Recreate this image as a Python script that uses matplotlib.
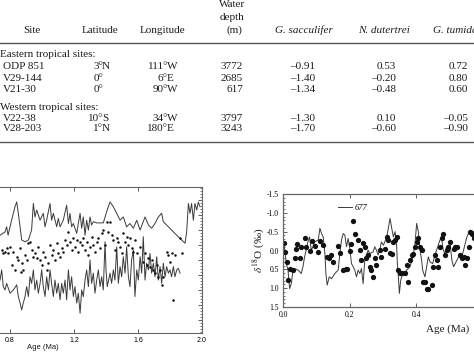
import matplotlib.pyplot as plt
from matplotlib.lines import Line2D
from matplotlib.ticker import MultipleLocator

plt.rcParams['mathtext.fontset'] = 'stix'

# TABLE DATA
sites_east = ['ODP 851', 'V29-144', 'V21-30']
sites_west = ['V22-38', 'V28-203']
lat_num = ['3°', '0°', '0°', '10°', '1°']
lat_hemi = ['N', '', '', 'S', 'N']
lon_num = ['111°', '6°', '90°', '34°', '180°']
lon_hemi = ['W', 'E', 'W', 'W', 'E']
depth = ['3772', '2685', '617', '3797', '3243']
sacculifer = ['–0.91', '–1.40', '–1.34', '–1.30', '–1.70']
dutertrei = ['0.53', '–0.20', '–0.48', '0.10', '–0.60']
tumida = ['0.72', '0.80', '0.60', '–0.05', '–0.90']

# LEFT PANEL (age in Ma, isotope value, axis inverted)
upper_age = [0.738, 0.769, 0.779, 0.788, 0.81, 0.831, 0.842, 0.852, 0.863, 0.873,
             0.894, 0.915, 0.935, 0.946, 0.956, 0.967, 0.988, 1.008, 1.019, 1.029,
             1.05, 1.06, 1.071, 1.092, 1.102, 1.113, 1.133, 1.154, 1.165, 1.175,
             1.185, 1.196, 1.217, 1.227, 1.238, 1.248, 1.258, 1.269, 1.279, 1.29,
             1.3, 1.31, 1.321, 1.342, 1.383, 1.404, 1.425, 1.446, 1.467, 1.488,
             1.508, 1.529, 1.55, 1.571, 1.592, 1.613, 1.644, 1.665, 1.685, 1.706,
             1.727, 1.748, 1.758, 1.779, 1.821, 1.863, 1.894, 1.904, 1.915, 1.925,
             1.935, 1.946, 1.956, 1.967, 1.977, 1.988]
upper_val = [-0.83, -0.94, -1.11, -0.83, -1.33, -1.78, -1.94, -1.56, -1.11, -0.67,
             -0.61, -0.67, -1.0, -1.89, -1.44, -1.67, -1.33, -1.56, -1.11, -1.33,
             -1.89, -1.33, -1.56, -1.11, -1.39, -1.11, -1.33, -1.83, -1.22, -1.56,
             -1.11, -1.22, -0.89, -1.22, -1.56, -1.06, -1.44, -0.83, -1.33, -1.0,
             -1.44, -1.17, -1.28, -1.24, -1.24, -1.61, -1.94, -1.78, -1.56, -1.33,
             -1.44, -1.11, -1.22, -1.06, -1.33, -1.0, -1.44, -1.17, -1.06, -1.22,
             -1.44, -1.56, -1.28, -1.17, -0.94, -0.72, -0.56, -0.94, -1.89, -1.56,
             -1.89, -1.33, -1.89, -1.67, -1.94, -1.78]

lower_age = [0.738, 0.748, 0.758, 0.769, 0.779, 0.8, 0.821, 0.842, 0.852, 0.863,
             0.873, 0.883, 0.894, 0.904, 0.915, 0.925, 0.935, 0.946, 0.956, 0.967,
             0.977, 0.988, 0.998, 1.008, 1.019, 1.029, 1.04, 1.05, 1.06, 1.071,
             1.081, 1.092, 1.102, 1.113, 1.123, 1.133, 1.144, 1.154, 1.165, 1.175,
             1.185, 1.196, 1.206, 1.217, 1.227, 1.238, 1.248, 1.258, 1.269, 1.279,
             1.29, 1.3, 1.31, 1.321, 1.331, 1.342, 1.352, 1.363, 1.373, 1.383,
             1.394, 1.4, 1.408, 1.425, 1.435, 1.446, 1.456, 1.467, 1.477, 1.488,
             1.498, 1.508, 1.519, 1.529, 1.54, 1.55, 1.56, 1.571, 1.581, 1.592,
             1.602, 1.613, 1.623, 1.633, 1.644, 1.654, 1.665, 1.675, 1.685, 1.696,
             1.706, 1.717, 1.727, 1.738, 1.748, 1.758, 1.769, 1.779, 1.79, 1.8,
             1.81, 1.821, 1.831, 1.842, 1.852, 1.863]
lower_val = [0.67, 0.33, 0.89, 1.0, 0.78, 1.11, 1.0, 0.83, 1.22, 1.44,
             1.67, 1.44, 1.22, 0.89, 1.22, 0.56, 0.78, 0.33, 1.0, 0.67,
             1.11, 0.78, 0.33, 0.89, 1.22, 0.56, 1.0, 0.33, 0.78, 1.22,
             0.67, 1.11, 0.78, 1.33, 0.78, 1.11, 0.67, 1.33, 0.33, 1.0,
             0.56, 1.22, 0.89, 1.44, 1.11, 1.78, 1.0, 1.22, 0.67, 0.33,
             0.89, 0.0, 0.78, 0.44, 1.11, 0.67, 0.33, 0.89, 0.56, 1.0,
             -0.61, 0.33, 0.89, 0.44, 0.78, 0.33, 0.67, -0.44, 0.78, 0.22,
             0.56, -0.11, 0.44, -0.44, 0.56, 0.89, 0.0, -0.33, 1.22, 0.33,
             0.67, -0.11, 0.44, -0.78, 0.67, 0.11, 0.33, -0.22, 0.44, 0.11,
             0.56, -0.11, 0.67, 0.22, 0.78, 0.11, 0.56, 0.22, 0.44, 0.33,
             0.56, 0.22, 0.56, 0.33, 0.28, 0.44]

dot_age = [0.748, 0.758, 0.769, 0.779, 0.79, 0.8, 0.81, 0.821, 0.831, 0.842,
           0.852, 0.863, 0.868, 0.873, 0.883, 0.894, 0.904, 0.915, 0.925, 0.935,
           0.946, 0.956, 0.967, 0.977, 0.988, 0.998, 1.008, 1.019, 1.029, 1.04,
           1.05, 1.06, 1.071, 1.081, 1.092, 1.102, 1.113, 1.123, 1.133, 1.144,
           1.154, 1.165, 1.175, 1.185, 1.196, 1.206, 1.217, 1.227, 1.238, 1.248,
           1.258, 1.269, 1.279, 1.29, 1.3, 1.31, 1.321, 1.331, 1.342, 1.352,
           1.363, 1.373, 1.383, 1.394, 1.404, 1.415, 1.425, 1.435, 1.446, 1.456,
           1.467, 1.477, 1.488, 1.498, 1.508, 1.519, 1.529, 1.54, 1.55, 1.56,
           1.571, 1.581, 1.592, 1.613, 1.633, 1.644, 1.654, 1.665, 1.675, 1.685,
           1.696, 1.706, 1.717, 1.727, 1.738, 1.748, 1.758, 1.779, 1.79, 1.8,
           1.81, 1.821, 1.831, 1.863, 1.873]
dot_val = [-0.33, -0.22, -0.28, -0.39, -0.22, -0.44, 0.17, -0.28, 0.33, -0.11,
           0.0, -0.39, 0.4, 0.11, 0.33, -0.17, 0.0, -0.56, -0.61, -0.33,
           -0.11, -0.22, -0.06, -0.44, 0.0, 0.17, -0.28, -0.11, 0.33, 0.11,
           -0.5, -0.17, -0.33, 0.0, -0.56, -0.22, -0.11, -0.39, -0.28, -0.67,
           -0.5, -0.94, -0.61, -0.33, -0.72, -0.44, -0.67, -0.28, -0.61, -0.5,
           -0.72, -0.33, -0.61, -0.17, -0.44, -0.78, -0.5, -0.28, -0.61, -0.72,
           -0.39, -0.89, -1.0, -0.5, -1.28, -0.94, -1.28, -0.83, -0.67, -0.33,
           -0.72, -0.61, -0.44, -0.22, -0.89, -0.61, -0.78, -0.5, -0.72, -0.39,
           -0.28, -0.67, -0.22, -0.44, 0.06, -0.22, 0.17, -0.06, 0.22, 0.0,
           0.33, 0.44, 0.17, 0.56, 0.33, 0.83, 0.56, -0.28, -0.17, 0.06,
           -0.22, 1.33, -0.17, -0.72, -0.22]
left_ticks = [0.0, 0.4, 0.8, 1.2, 1.6, 2.0]
left_ticklabels = ['', '', '0.8', '1.2', '1.6', '2.0']

# RIGHT PANEL (site 677 curve and core dots, delta 18O per mil)
curve_age = [0.003, 0.01, 0.015, 0.02, 0.025, 0.03, 0.035, 0.045, 0.055, 0.06,
             0.065, 0.075, 0.08, 0.085, 0.09, 0.095, 0.106, 0.111, 0.116, 0.121,
             0.126, 0.129, 0.133, 0.139, 0.146, 0.156, 0.166, 0.171, 0.176, 0.181,
             0.186, 0.191, 0.196, 0.201, 0.206, 0.211, 0.216, 0.221, 0.226, 0.231,
             0.236, 0.241, 0.246, 0.251, 0.256, 0.261, 0.271, 0.276, 0.281, 0.286,
             0.291, 0.296, 0.302, 0.312, 0.322, 0.327, 0.332, 0.337, 0.342, 0.344,
             0.347, 0.35, 0.354, 0.36, 0.367, 0.372, 0.382, 0.392, 0.397, 0.402,
             0.407, 0.412, 0.417, 0.42, 0.427, 0.432, 0.437, 0.442, 0.45, 0.457,
             0.462, 0.472, 0.477, 0.482, 0.487, 0.492, 0.503, 0.508, 0.513, 0.523,
             0.533, 0.538, 0.543, 0.553, 0.563, 0.573]
curve_d18o = [-0.19, 0.35, 0.52, 1.01, 0.88, 0.52, 0.48, 0.52, 0.61, 0.43,
              0.17, -0.23, -0.36, -0.01, -0.10, -0.23, -0.28, -0.59, -0.45, -0.36,
              0.08, 0.61, 0.92, 0.70, 0.75, 0.61, 0.52, 0.08, -0.28, -0.45,
              -0.41, -0.10, -0.32, -0.05, 0.35, 0.43, 0.52, 0.70, 0.52, 0.61,
              0.48, 0.88, 0.26, 0.12, -0.01, 0.08, 0.04, -0.10, -0.01, 0.12,
              -0.01, -0.23, -0.14, -0.36, -0.85, -0.59, -0.36, -0.50, -0.10, 0.35,
              0.70, 1.14, 0.79, 0.61, 0.57, 0.52, 0.43, 0.12, -0.19, -0.72,
              -0.50, -0.01, 0.26, 0.52, 0.70, 0.43, 0.17, 0.30, 0.35, 0.12,
              -0.01, -0.28, -0.32, -0.01, 0.08, -0.10, -0.14, 0.26, 0.43, 0.26,
              0.08, 0.17, -0.01, -0.36, -0.54, -0.50]

core_age = [0.003, 0.007, 0.013, 0.015, 0.022, 0.03, 0.035, 0.04, 0.043, 0.05,
            0.055, 0.065, 0.07, 0.08, 0.088, 0.095, 0.106, 0.111, 0.121, 0.133,
            0.139, 0.143, 0.151, 0.166, 0.171, 0.181, 0.189, 0.193, 0.201, 0.206,
            0.211, 0.216, 0.226, 0.231, 0.236, 0.241, 0.246, 0.251, 0.256, 0.261,
            0.266, 0.271, 0.276, 0.281, 0.291, 0.296, 0.307, 0.312, 0.317, 0.322,
            0.327, 0.332, 0.337, 0.342, 0.347, 0.352, 0.357, 0.367, 0.372, 0.377,
            0.382, 0.387, 0.392, 0.397, 0.402, 0.407, 0.412, 0.417, 0.422, 0.427,
            0.432, 0.437, 0.447, 0.452, 0.457, 0.462, 0.467, 0.472, 0.477, 0.482,
            0.487, 0.492, 0.497, 0.503, 0.513, 0.518, 0.523, 0.533, 0.538, 0.543,
            0.548, 0.553, 0.558, 0.563, 0.568, 0.573]
core_d18o = [-0.20, 0.03, 0.30, 0.77, 0.48, 0.52, 0.19, -0.04, -0.16, 0.19,
             -0.10, -0.32, -0.08, 0.02, -0.25, -0.12, 0.03, -0.25, -0.14, 0.17,
             0.21, 0.12, 0.30, -0.12, 0.06, 0.51, 0.48, 0.48, 0.02, -0.16,
             -0.79, -0.45, -0.28, -0.01, 0.26, -0.20, -0.10, 0.21, 0.12, 0.43,
             0.52, 0.70, 0.21, 0.39, -0.01, 0.17, -0.05, -0.36, -0.28, 0.06,
             0.08, -0.23, -0.28, -0.36, 0.52, 0.61, 0.61, 0.61, 0.39, 0.83,
             0.26, 0.12, 0.08, -0.10, -0.23, -0.32, -0.10, -0.01, 0.83, 0.83,
             1.01, 1.01, 0.92, 0.43, 0.12, 0.26, 0.43, -0.10, -0.32, -0.45,
             0.12, -0.01, -0.10, -0.23, -0.05, -0.10, -0.10, 0.12, 0.21, 0.17,
             0.39, 0.21, -0.10, -0.50, -0.45, -0.32]
right_yticks = [-1.5, -1.0, -0.5, 0.0, 0.5, 1.0, 1.5]
right_yticklabels = ['-1.5', '-1.0', '-0.5', '0.0', '0.5', '1.0', '1.5']
right_xticks = [0.0, 0.2, 0.4, 0.6]
right_xticklabels = ['0.0', '0.2', '0.4', '']

# FIGURE
W, H = 474, 354
fig = plt.figure(figsize=(W / 100, H / 100), dpi=100)
SERIF = 'Liberation Serif'
SANS = 'Liberation Sans'
ink = '#1c1c1c'


def fx(x, y):
    # pixel position (from top-left) -> figure fraction
    return x / W, 1 - y / H


def put(x, y, s, ha='left', **kw):
    fig.text(*fx(x, y), s, ha=ha, va='baseline', family=SERIF,
             fontsize=8, color=ink, **kw)


# table header
put(32, 33, 'Site', 'center')
put(100, 33, 'Latitude', 'center')
put(163, 33, 'Longitude', 'center')
put(232, 7, 'Water', 'center')
put(232, 20, 'depth', 'center')
put(234, 33, '(m)', 'center')
put(304, 33, 'G. sacculifer', 'center', style='italic')
put(384, 33, 'N. dutertrei', 'center', style='italic')
put(433, 33, 'G. tumida', 'left', style='italic')

for yl in (43, 142):
    fig.add_artist(Line2D([0, 1], [1 - yl / H] * 2, color='#555555', lw=1.0))

put(0, 57, 'Eastern tropical sites:')
put(0, 110, 'Western tropical sites:')
row_y = [69, 81, 92, 121, 131]
for i, (site, y) in enumerate(zip(sites_east + sites_west, row_y)):
    put(3, y, site)
    put(103, y, lat_num[i], 'right')
    put(102, y, lat_hemi[i], 'left')
    put(168, y, lon_num[i], 'right')
    put(167, y, lon_hemi[i], 'left')
    put(243, y, depth[i], 'right')
    put(315, y, sacculifer[i], 'right')
    put(396, y, dutertrei[i], 'right')
    put(468, y, tumida[i], 'right')

# left panel (its left part lies outside the figure)
axl = fig.add_axes([-118 / W, 21 / H, 320 / W, 146 / H])
axl.plot(upper_age, upper_val, color='#3a3a3a', lw=0.7)
axl.plot(lower_age, lower_val, color='#3a3a3a', lw=0.7)
axl.plot(dot_age, dot_val, 'o', color='#111111', ms=1.8, mew=0)
axl.set_xlim(0, 2.0)
axl.set_ylim(2.44, -2.44)
axl.set_xticks(left_ticks)
axl.set_xticklabels(left_ticklabels, family=SANS)
axl.yaxis.set_major_locator(MultipleLocator(0.5))
axl.yaxis.set_minor_locator(MultipleLocator(0.1))
axl.tick_params(which='both', direction='in', top=True, right=True, left=False,
                labelleft=False, labelsize=5, pad=3, color='#444444')
axl.tick_params(which='major', length=3, width=0.6)
axl.tick_params(which='minor', length=1.5, width=0.5)
for sp in axl.spines.values():
    sp.set_color('#666666')
    sp.set_linewidth(0.8)
axl.set_xlabel('Age (Ma)', family=SANS, fontsize=5.5, color=ink)
axl.xaxis.set_label_coords(0.503, -0.075)

# right panel
axr = fig.add_axes([283 / W, 47 / H, 266 / W, 113 / H])
line677, = axr.plot(curve_age, curve_d18o, color='#3a3a3a', lw=0.7)
axr.plot(core_age, core_d18o, 'o', color='#111111', ms=3.8, mew=0)
axr.set_xlim(0, 0.8)
axr.set_ylim(1.5, -1.5)
axr.set_yticks(right_yticks)
axr.set_yticklabels(right_yticklabels, family=SERIF)
axr.set_xticks(right_xticks)
axr.set_xticklabels(right_xticklabels, family=SERIF)
axr.yaxis.set_minor_locator(MultipleLocator(0.1))
axr.tick_params(which='both', direction='in', top=True, right=True,
                labelsize=5.5, pad=3, color='#444444')
axr.tick_params(which='major', length=3, width=0.6)
axr.tick_params(which='minor', length=1.5, width=0.5)
for sp in axr.spines.values():
    sp.set_color('#666666')
    sp.set_linewidth(0.9)
axr.set_ylabel(r'$\delta^{18}$O (‰)', family=SERIF, fontsize=8, color=ink)
axr.yaxis.set_label_coords(-0.065, 0.5)
axr.set_xlabel('Age (Ma)', family=SERIF, fontsize=8, color=ink)
axr.xaxis.set_label_coords(0.62, -0.15)
axr.legend([line677], ['677'], loc='upper left', bbox_to_anchor=(0.18, 0.98),
           frameon=False, handlelength=1.6, handletextpad=0.3,
           prop={'family': SERIF, 'style': 'italic', 'size': 6})

fig.savefig('out.png', dpi=100, facecolor='white')
